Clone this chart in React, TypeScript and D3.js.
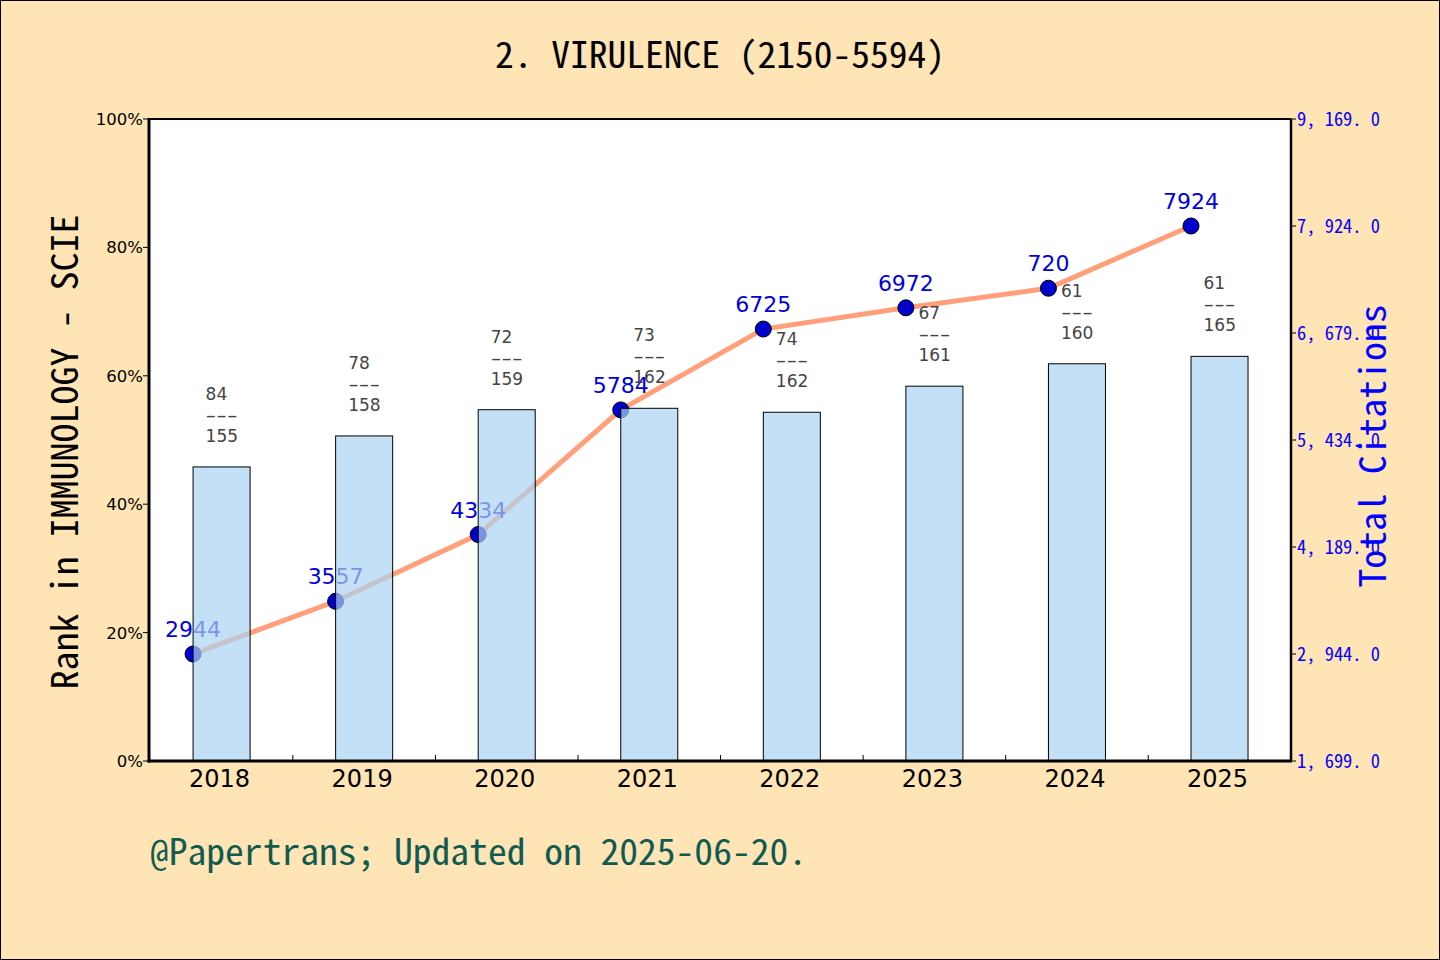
import React from "react";
import * as d3 from "d3";

const years = ["2018", "2019", "2020", "2021", "2022", "2023", "2024", "2025"];
const ranks = [84, 78, 72, 73, 74, 67, 61, 61];
const totals = [155, 158, 159, 162, 162, 161, 160, 165];
const citations = [2944, 3557, 4334, 5784, 6725, 6972, 7200, 7924];
const citationLabels = ["2944", "3557", "4334", "5784", "6725", "6972", "720", "7924"];
const pctTicks = [0, 0.2, 0.4, 0.6, 0.8, 1.0];
const citeMin = 1699;
const citeMax = 9169;
const citeStep = 1245;

const W = 1440;
const H = 960;
const L = 149, R = 1291, T = 119, B = 761;
const MONO = "'Noto Sans Mono CJK SC', 'DejaVu Sans Mono', monospace";
const SANS = "'DejaVu Sans', Verdana, sans-serif";

export default function App() {
  const x = d3.scaleBand<string>().domain(years).range([150.3, 1290.8]).padding(0);
  const y = d3.scaleLinear().domain([0, 1]).range([B, T]);
  const yR = d3.scaleLinear().domain([citeMin, citeMax]).range([B, T]);
  const bw = x.bandwidth() * 0.4;
  const pcts = ranks.map((r, i) => 1 - r / totals[i]);
  const cx = (yr: string) => (x(yr) as number) + x.bandwidth() / 2;
  const px = (yr: string) => cx(yr) - bw / 2;
  const line = d3
    .line<number>()
    .x((_, i) => px(years[i]))
    .y((d) => yR(d))
    .curve(d3.curveLinear);
  const rightTicks = d3.range(citeMin, citeMax + 1, citeStep);
  const fmtR = (v: number) => d3.format(",.1f")(v).replace(",", ", ").replace(".", ". ");
  const pctFmt = d3.format(".0%");

  return (
    <svg
      width={W}
      height={H}
      style={{ position: "absolute", left: 0, top: 0 }}
      xmlns="http://www.w3.org/2000/svg"
    >
      <rect x={0.5} y={0.5} width={W - 1} height={H - 1} fill="#FFE4B5" stroke="#000" strokeWidth={1} />
      <rect x={L} y={T} width={R - L} height={B - T} fill="#fff" />

      {/* title */}
      <text x={720} y={68} textAnchor="middle" fontFamily={MONO} fontSize={36} fill="#000"
        textLength={450} lengthAdjust="spacingAndGlyphs">2. VIRULENCE (2150-5594)</text>

      {/* line, dots, point labels (under bars) */}
      <path d={line(citations) || ""} fill="none" stroke="#FFA07A" strokeWidth={5} />
      {citations.map((c, i) => (
        <circle key={"c" + i} cx={px(years[i])} cy={yR(c)} r={8} fill="#0000CD" stroke="#000" strokeWidth={1} />
      ))}
      {citations.map((c, i) => (
        <text key={"cl" + i} x={px(years[i])} y={yR(c) - 17} textAnchor="middle" fontFamily={SANS}
          fontSize={22} fill="#0000DD">{citationLabels[i]}</text>
      ))}

      {/* bars */}
      {pcts.map((p, i) => (
        <rect key={"b" + i} x={px(years[i])} y={y(p)} width={bw} height={B - y(p)}
          fill="rgb(171,211,242)" fillOpacity={0.7} stroke="#000" strokeWidth={1} />
      ))}

      {/* bar labels */}
      {pcts.map((p, i) => {
        const tx = cx(years[i]) - 16;
        const by = y(p) - 25;
        return (
          <g key={"bl" + i} fontFamily={SANS} fontSize={17} fill="#444">
            <text x={tx} y={by - 42}>{ranks[i]}</text>
            <text x={tx} y={by - 21} textLength={32} lengthAdjust="spacingAndGlyphs">---</text>
            <text x={tx} y={by}>{totals[i]}</text>
          </g>
        );
      })}

      {/* x inner ticks */}
      {years.slice(1).map((yr) => (
        <line key={"xt" + yr} x1={x(yr)} x2={x(yr)} y1={B} y2={B - 6} stroke="#000" strokeWidth={1} />
      ))}

      {/* frame */}
      <line x1={L} x2={R} y1={T} y2={T} stroke="#000" strokeWidth={2} />
      <line x1={R} x2={R} y1={T} y2={B} stroke="#000" strokeWidth={2.5} />
      <line x1={L} x2={L} y1={T - 1} y2={B + 1.5} stroke="#000" strokeWidth={3} />
      <line x1={L - 1.5} x2={R + 1} y1={B} y2={B} stroke="#000" strokeWidth={3} />

      {/* left ticks */}
      {pctTicks.map((t) => (
        <g key={"lt" + t}>
          <line x1={L - 6} x2={L} y1={y(t)} y2={y(t)} stroke="#000" strokeWidth={1} />
          <text x={143} y={y(t) + 6} textAnchor="end" fontFamily={SANS} fontSize={16.5} fill="#000">{pctFmt(t)}</text>
        </g>
      ))}

      {/* right ticks */}
      {rightTicks.map((t) => (
        <g key={"rt" + t}>
          <line x1={R} x2={R + 5} y1={yR(t)} y2={yR(t)} stroke="#000" strokeWidth={1} />
          <text x={1297} y={yR(t) + 7} fontFamily={MONO} fontSize={19} fill="#0000FF"
            textLength={83} lengthAdjust="spacingAndGlyphs">{fmtR(t)}</text>
        </g>
      ))}

      {/* x tick labels */}
      {years.map((yr) => (
        <text key={"xl" + yr} x={cx(yr) - 2} y={787} textAnchor="middle" fontFamily={SANS} fontSize={24} fill="#000">{yr}</text>
      ))}

      {/* axis titles */}
      <text transform="translate(78,452) rotate(-90)" textAnchor="middle" fontFamily={MONO} fontSize={36}
        fill="#000" textLength={475} lengthAdjust="spacingAndGlyphs">Rank in IMMUNOLOGY - SCIE</text>
      <text transform="translate(1386,446) rotate(-90)" textAnchor="middle" fontFamily={MONO} fontSize={36}
        fill="#0000FF" textLength={283} lengthAdjust="spacingAndGlyphs">Total Citations</text>

      {/* footer */}
      <text x={150} y={865} fontFamily={MONO} fontSize={36} fill="#105A50"
        textLength={657} lengthAdjust="spacingAndGlyphs">@Papertrans; Updated on 2025-06-20.</text>
    </svg>
  );
}
